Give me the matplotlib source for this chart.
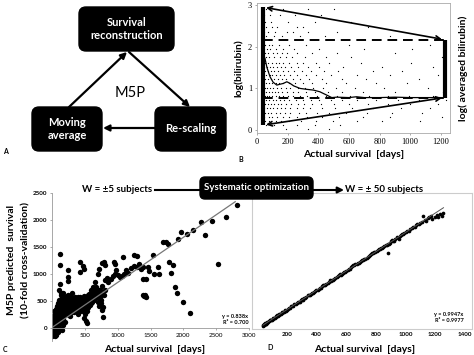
import matplotlib
matplotlib.use("Agg")
import matplotlib.pyplot as plt
from matplotlib.patches import FancyBboxPatch, FancyArrowPatch

plt.rcParams['font.family'] = ['Lato', 'DejaVu Sans']

# ---------------- data ----------------
# Panel B: log(bilirubin) rows and the days observed on each row
bili_rows = [2.9, 2.75, 2.6, 2.48, 2.35, 2.25, 2.05, 1.95, 1.85, 1.75, 1.62, 1.52,
             1.42, 1.32, 1.22, 1.12, 1.02, 0.92, 0.82, 0.72, 0.62, 0.52, 0.42,
             0.32, 0.22, 0.12, 0.02]
bili_days_by_row = [
    [62, 170, 330, 505],
    [48, 83, 152, 247, 418],
    [52, 91, 203, 377, 612],
    [57, 99, 133, 262, 298, 722],
    [46, 72, 118, 193, 238, 331, 522],
    [61, 108, 163, 283, 447, 871],
    [51, 77, 96, 142, 212, 318, 603, 1128],
    [47, 66, 87, 121, 172, 243, 402, 697, 1012],
    [53, 71, 102, 128, 163, 198, 262, 358, 521, 903],
    [45, 62, 81, 112, 148, 192, 231, 312, 452, 611, 1208],
    [52, 74, 96, 121, 142, 171, 208, 262, 301, 383, 468, 682, 1003],
    [46, 67, 84, 106, 131, 157, 183, 222, 268, 332, 408, 562, 818, 1152],
    [51, 69, 92, 114, 139, 172, 201, 242, 291, 352, 438, 532, 758, 948],
    [47, 61, 82, 101, 126, 151, 178, 217, 258, 322, 388, 482, 652, 868, 1182],
    [52, 71, 89, 112, 134, 162, 188, 232, 281, 338, 422, 558, 712, 1058],
    [46, 62, 79, 101, 122, 146, 173, 212, 248, 302, 362, 448, 582, 778, 982],
    [51, 66, 86, 104, 129, 156, 187, 218, 266, 311, 368, 432, 518, 642, 832, 1118],
    [47, 59, 76, 96, 117, 139, 166, 194, 232, 268, 322, 378, 462, 558, 692, 898, 1212],
    [52, 64, 81, 99, 121, 144, 171, 202, 238, 282, 328, 392, 448, 522, 608, 732, 858, 992, 1148],
    [46, 61, 79, 102, 124, 151, 178, 212, 252, 298, 352, 408, 482, 558, 652, 778, 922, 1058, 1232],
    [51, 69, 91, 109, 136, 158, 192, 223, 267, 308, 362, 418, 502, 598, 722, 852, 998, 1182],
    [47, 64, 86, 104, 131, 154, 186, 218, 261, 302, 348, 422, 508, 622, 758, 942, 1128],
    [52, 71, 94, 121, 148, 182, 218, 272, 318, 392, 468, 582, 718, 882, 1078],
    [46, 76, 101, 129, 171, 208, 262, 328, 422, 538, 692, 868, 1208],
    [53, 79, 122, 158, 212, 288, 382, 498, 652, 818, 1062],
    [62, 112, 168, 262, 378, 542],
    [192, 332, 468],
]
# moving average of log(bilirubin)
avg_days = [40, 52, 65, 85, 105, 129, 150, 172, 195, 216, 240, 281, 320, 368,
            410, 455, 488, 520, 600, 650, 700, 800, 900, 1000, 1100, 1200]
avg_log = [1.78, 1.72, 1.5, 1.28, 1.15, 1.08, 1.1, 1.12, 1.16, 1.12, 1.06, 1.0,
           0.98, 0.96, 0.92, 0.84, 0.78, 0.79, 0.78, 0.8, 0.78, 0.78, 0.79, 0.78,
           0.78, 0.78]
# rescaling frame: log range before (left) and after (right) averaging
left_day, right_day = 41, 1225
left_range = [0.12, 2.95]
right_range = [0.78, 2.17]

# Panel C: W = +-5 subjects, (actual days, predicted days)
c_points = [
    (5, -150), (10, -80), (15, -20), (20, 40), (25, 100), (30, -50), (35, 160),
    (40, 20), (45, 250), (50, 80), (55, -10), (60, 180), (65, 300), (70, 120),
    (75, 40), (80, 220), (85, 350), (90, 150), (95, 70), (100, 270), (105, 420),
    (110, 190), (115, 100), (120, 320), (125, 480), (130, 230), (135, 140),
    (140, 380), (145, 560), (150, 270), (155, 180), (160, 420), (165, 650),
    (170, 320), (175, 220), (180, 470), (190, 360), (200, 520), (210, 260),
    (220, 430), (230, 580), (240, 330), (250, 470), (260, 230), (270, 560),
    (280, 400), (290, 310), (300, 500), (310, 640), (320, 380), (330, 280),
    (340, 450), (350, 560), (360, 330), (370, 420), (380, 510), (390, 250),
    (400, 380), (410, 470), (420, 560), (430, 300), (440, 430), (450, 380),
    (460, 520), (470, 470), (480, 330), (490, 580), (500, 430), (510, 380),
    (520, 500), (530, 300), (540, 460), (550, 550), (560, 410), (570, 620),
    (580, 500), (590, 700), (600, 560), (610, 480), (620, 650), (630, 760),
    (640, 520), (650, 600), (660, 850), (670, 700), (680, 560), (690, 640),
    (700, 470), (710, 580), (720, 400), (740, 520), (760, 320), (780, 200),
    (730, 700), (750, 620), (520, 130), (480, 180), (540, 90), (20, -120),
    (40, 170), (60, 60), (80, 250), (30, 210), (70, 150), (110, 130), (150, 90),
    (190, 230), (230, 310), (270, 210), (310, 360), (350, 300), (390, 280),
    (430, 470), (470, 350), (510, 260), (550, 390), (590, 450), (630, 540),
    (670, 600), (120, 420), (180, 440), (240, 500), (300, 360), (360, 440),
    (420, 520), (460, 380),
    (8, 30), (12, 150), (18, -100), (22, 220), (28, 60), (33, -10), (38, 300),
    (42, 100), (48, -60), (52, 200), (58, 350), (62, 0), (68, 230), (72, 400),
    (78, 90), (82, 310), (88, 20), (92, 460), (98, 200), (102, 340), (108, 60),
    (112, 520), (118, 250), (122, 150), (128, 380), (132, 600), (138, 300),
    (142, 200), (148, 460), (152, 350), (158, 260), (162, 520), (168, 420),
    (172, 150), (178, 380), (185, 560), (195, 300), (205, 420), (215, 520),
    (225, 370), (235, 460), (245, 600), (255, 380), (265, 440), (275, 300),
    (285, 520), (295, 440), (305, 280), (315, 540), (325, 460), (335, 360),
    (345, 520), (355, 400), (365, 500), (375, 340), (385, 440), (395, 560),
    (405, 300), (415, 420), (425, 500), (435, 380), (445, 520), (455, 440),
    (465, 300), (475, 540), (485, 420), (495, 500), (505, 340), (515, 560),
    (525, 420), (535, 520), (545, 380), (555, 600), (565, 480), (575, 560),
    (585, 420), (595, 620), (605, 680), (615, 560), (625, 700), (635, 620),
    (645, 720), (655, 680), (665, 560), (675, 760), (685, 700), (695, 560),
    (705, 640), (715, 700), (725, 560), (735, 620), (745, 460), (755, 780),
    (770, 380), (790, 600), (800, 700), (150, -40), (170, 40), (200, 100),
    (90, -90), (60, -130), (45, -150), (130, -20),
    (115, 1373), (126, 1158), (434, 1218), (434, 1023), (243, 1066), (243, 944),
    (243, 860), (100, 700), (120, 800), (140, 640), (470, 1150), (480, 1080),
    (700, 1000), (720, 1080), (760, 1200), (790, 1220), (800, 1170), (800, 880),
    (830, 920), (860, 850), (900, 900), (930, 950), (960, 1000), (980, 1060),
    (1000, 980), (1030, 940), (1060, 960), (1100, 1000), (1130, 1060),
    (1160, 1020), (1200, 1100), (1250, 1150), (1290, 1120), (1320, 1180),
    (1350, 1080), (1380, 1130), (940, 1220), (960, 1180), (1084, 1318),
    (1243, 1342), (1290, 1330), (1535, 1342), (1458, 1127), (1615, 1133),
    (1550, 993), (1630, 993), (1689, 1593), (1740, 1590), (1765, 1560),
    (1781, 1226), (1815, 1020), (1845, 1155), (1869, 748), (1900, 648),
    (1997, 472), (2100, 270), (1920, 1654), (1972, 1777), (2050, 1730),
    (2150, 1820), (2268, 1961), (2330, 1728), (2433, 1972), (2535, 1176),
    (2650, 2053), (2818, 2279), (1380, 610), (1400, 580), (1430, 570),
    (1410, 600), (1393, 900), (1430, 900), (1480, 1050),
]
c_actual = [p[0] for p in c_points]
c_pred = [p[1] for p in c_points]
c_slope = 0.838
c_fit_end = 2790

# Panel D: W = +-50 subjects, (actual days, predicted days)
d_points = [
    (40, 30), (45, 45), (50, 40), (55, 60), (60, 55), (70, 72), (80, 78),
    (90, 95), (100, 96), (110, 112), (120, 118), (130, 133), (140, 136),
    (150, 152), (160, 158), (170, 172), (180, 176), (190, 194), (200, 197),
    (215, 212), (230, 233), (245, 240), (260, 262), (275, 282), (290, 280),
    (300, 305), (310, 300), (325, 322), (340, 345), (355, 350), (370, 372),
    (385, 380), (400, 403), (415, 410), (430, 425), (445, 450), (460, 455),
    (475, 478), (490, 500), (505, 502), (520, 515), (535, 540), (550, 560),
    (565, 555), (580, 578), (595, 590), (610, 612), (625, 620), (640, 648),
    (655, 660), (670, 672), (685, 680), (700, 705), (715, 710), (730, 725),
    (745, 745), (760, 758), (775, 780), (790, 790), (805, 800), (820, 825),
    (835, 830), (850, 840), (865, 862), (880, 870), (884, 786), (895, 890),
    (910, 915), (925, 905), (940, 945), (955, 930), (970, 965), (985, 978),
    (1000, 995), (1020, 1010), (1040, 1040), (1060, 1050), (1080, 1085),
    (1100, 1090), (1119, 1168), (1140, 1110), (1160, 1150), (1180, 1130),
    (1198, 1158), (1220, 1150), (1243, 1168), (1250, 1190),
    (42, 38), (47, 50), (52, 48), (57, 52), (65, 65), (75, 70), (85, 88),
    (95, 90), (105, 108), (115, 110), (125, 125), (135, 140), (145, 145),
    (155, 150), (165, 168), (175, 180), (185, 185), (195, 190), (207, 205),
    (222, 220), (237, 238), (252, 255), (267, 270), (282, 275), (295, 300),
    (305, 295), (318, 315), (332, 330), (347, 350), (362, 360), (377, 375),
    (392, 395), (407, 400), (422, 420), (437, 440), (452, 448), (467, 468),
    (482, 485), (497, 495), (512, 505), (527, 520), (542, 545), (557, 565),
    (572, 570), (587, 585), (602, 600), (617, 615), (632, 635), (647, 655),
    (662, 668), (677, 675), (692, 690), (707, 708), (722, 720), (737, 735),
    (752, 752), (767, 770), (782, 785), (797, 795), (812, 810), (827, 828),
    (842, 838), (857, 850), (872, 868), (890, 880), (902, 905), (917, 910),
    (932, 930), (947, 940), (962, 955), (977, 975), (992, 985), (1010, 1005),
    (1030, 1025), (1050, 1045), (1070, 1068), (1090, 1080), (1110, 1105),
    (1130, 1120), (1150, 1140), (1170, 1160), (1210, 1170), (1230, 1180),
]
d_actual = [p[0] for p in d_points]
d_pred = [p[1] for p in d_points]
d_slope = 0.9947
d_fit_range = [40, 1255]


def px_box(x0, y0, x1, y1):
    return [x0 / 474, 1 - y1 / 355, (x1 - x0) / 474, (y1 - y0) / 355]


fig = plt.figure(figsize=(4.74, 3.55), dpi=100)
fig.patch.set_facecolor('white')

# ---------------- Panel B ----------------
axB = fig.add_axes(px_box(257, 3, 450, 133))
bx, by = [], []
for lvl, days in zip(bili_rows, bili_days_by_row):
    bx.extend(days)
    by.extend([lvl] * len(days))
axB.scatter(bx, by, s=0.8, color='black', linewidths=0)
axB.plot(avg_days, avg_log, color='black', lw=0.9)
axB.plot([left_day, right_day], [right_range[1]] * 2, color='black', lw=1.4, ls=(0, (5, 3)))
axB.plot([left_day, right_day], [right_range[0]] * 2, color='black', lw=1.4, ls=(0, (5, 3)))
axB.plot([left_day, left_day], left_range, color='black', lw=3, solid_capstyle='butt')
axB.plot([right_day, right_day], right_range, color='black', lw=3, solid_capstyle='butt')
for a, b in [((left_day, left_range[1]), (right_day, right_range[1])),
             ((left_day, left_range[0]), (right_day, right_range[0]))]:
    axB.add_patch(FancyArrowPatch(a, b, arrowstyle='<->', mutation_scale=8,
                                  color='black', lw=1.2))
axB.set_xlim(0, 1260)
axB.set_ylim(-0.07, 3.05)
axB.set_xticks([0, 200, 400, 600, 800, 1000, 1200])
axB.set_yticks([0, 1, 2, 3])
for lab in axB.get_xticklabels() + axB.get_yticklabels():
    lab.set_family('Liberation Serif')
    lab.set_fontsize(6)
axB.tick_params(length=1.5, width=0.5, pad=2, color='#888888')
for sp in axB.spines.values():
    sp.set_color('#aaaaaa')
    sp.set_linewidth(0.6)
axB.set_xlabel('Actual survival  [days]', fontsize=7.5, fontweight='bold', labelpad=3)
axB.set_ylabel('log(bilirubin)', fontsize=7.5, fontweight='bold', labelpad=3)
axB2 = axB.twinx()
axB2.set_yticks([])
axB2.set_ylabel('log( averaged bilirubin)', fontsize=7.5, fontweight='bold', labelpad=6)
for sp in axB2.spines.values():
    sp.set_visible(False)

# ---------------- Panel C ----------------
axC = fig.add_axes(px_box(52, 193, 249, 341))
axC.scatter(c_actual, c_pred, s=15, color='black', linewidths=0)
axC.plot([0, c_fit_end], [0, c_slope * c_fit_end], color='#777777', lw=0.9)
axC.set_xlim(0, 3000)
axC.set_ylim(-250, 2500)
axC.set_xticks([500, 1000, 1500, 2000, 2500, 3000])
axC.set_yticks([0, 500, 1000, 1500, 2000, 2500])
axC.tick_params(labelsize=4.5, length=1.5, width=0.5, pad=2, color='#888888')
for lab in axC.get_xticklabels() + axC.get_yticklabels():
    lab.set_fontweight('bold')
axC.spines['top'].set_visible(False)
axC.spines['right'].set_visible(False)
axC.spines['bottom'].set_position(('data', 0))
axC.spines['left'].set_color('#999999')
axC.spines['bottom'].set_color('#999999')
axC.spines['left'].set_linewidth(0.6)
axC.spines['bottom'].set_linewidth(0.6)
axC.xaxis.set_tick_params(pad=2.5)
axC.text(2990, 40, 'y = 0.838x\nR\u00b2 = 0.700', fontsize=4, fontweight='bold',
         ha='right', va='bottom', linespacing=1.3)

# ---------------- Panel D ----------------
axD = fig.add_axes(px_box(252, 193, 472, 329))
axD.scatter(d_actual, d_pred, s=7, color='black', linewidths=0)
axD.plot(d_fit_range, [d_slope * v for v in d_fit_range], color='#555555', lw=0.7)
axD.set_xlim(-34, 1447)
axD.set_ylim(0, 1400)
axD.set_xticks([200, 400, 600, 800, 1000, 1200, 1400])
axD.set_yticks([])
axD.tick_params(labelsize=4.5, length=0, pad=2)
for lab in axD.get_xticklabels():
    lab.set_fontweight('bold')
for sp in axD.spines.values():
    sp.set_color('#cccccc')
    sp.set_linewidth(0.8)
axD.text(1390, 60, 'y = 0.9947x\nR\u00b2 = 0.9977', fontsize=4, fontweight='bold',
         ha='right', va='bottom', linespacing=1.3)

# ---------------- overlay: panel A, banner, labels ----------------
ov = fig.add_axes([0, 0, 1, 1], zorder=10)
ov.set_xlim(0, 474)
ov.set_ylim(355, 0)
ov.axis('off')
ov.patch.set_alpha(0)

boxes = [(79, 7, 95, 44, 'Survival\nreconstruction'),
         (32, 107, 70, 44, 'Moving\naverage'),
         (155, 107, 71, 44, 'Re-scaling')]
for x, y, w, h, txt in boxes:
    ov.add_patch(FancyBboxPatch((x, y), w, h, boxstyle='round,pad=0,rounding_size=7',
                                fc='black', ec='black'))
    ov.text(x + w / 2, y + h / 2, txt, color='white', fontsize=8, fontweight='bold',
            ha='center', va='center', linespacing=1.25)
ov.text(130, 93, 'M5P', fontsize=10.5, ha='center', va='center')
for a, b in [((69, 107), (127, 52)), ((129, 52), (190, 107)), ((155, 128), (103, 128))]:
    ov.add_patch(FancyArrowPatch(a, b, arrowstyle='-|>', mutation_scale=9,
                                 color='black', lw=1.6, shrinkA=0, shrinkB=0))

ov.text(5, 152, 'A', fontsize=5, fontweight='bold', ha='center', va='center')
ov.text(241, 160, 'B', fontsize=5, fontweight='bold', ha='center', va='center')
ov.text(5, 350, 'C', fontsize=5, fontweight='bold', ha='center', va='center')
ov.text(270, 348, 'D', fontsize=5, fontweight='bold', ha='center', va='center')

ov.text(155, 350, 'Actual survival  [days]', fontsize=7.5, fontweight='bold',
        ha='center', va='center')
ov.text(365, 349, 'Actual survival  [days]', fontsize=7.5, fontweight='bold',
        ha='center', va='center')
ov.text(12, 260, 'M5P predicted  survival', fontsize=7.5, fontweight='bold',
        rotation=90, ha='center', va='center')
ov.text(26, 260, '(10-fold cross-validation)', fontsize=7.5, fontweight='bold',
        rotation=90, ha='center', va='center')

ov.text(117, 190, 'W = \u00b15 subjects', fontsize=7, fontweight='bold',
        ha='center', va='center')
ov.plot([155, 200], [190, 190], color='black', lw=1.5)
ov.add_patch(FancyBboxPatch((200, 177), 113, 22, boxstyle='round,pad=0,rounding_size=5',
                            fc='black', ec='black'))
ov.text(256.5, 188, 'Systematic optimization', color='white', fontsize=7,
        fontweight='bold', ha='center', va='center')
ov.add_patch(FancyArrowPatch((313, 190), (344, 190), arrowstyle='-|>', mutation_scale=9,
                             color='black', lw=1.5, shrinkA=0, shrinkB=0))
ov.text(384, 190, 'W = \u00b1 50 subjects', fontsize=7, fontweight='bold',
        ha='center', va='center')

fig.savefig('out.png', dpi=100)
